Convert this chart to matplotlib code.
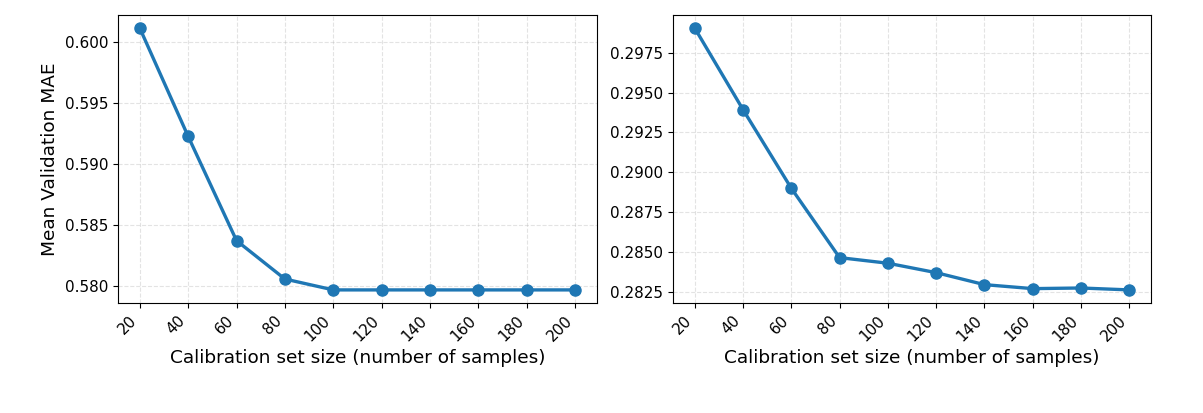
import matplotlib
matplotlib.use("Agg")
import matplotlib.pyplot as plt

sizes = [20, 40, 60, 80, 100, 120, 140, 160, 180, 200]
mae_left = [0.60110, 0.59224, 0.58371, 0.58057, 0.57968, 0.57968, 0.57968, 0.57968, 0.57968, 0.57968]
mae_right = [0.29903, 0.29393, 0.28901, 0.28467, 0.28432, 0.28373, 0.28298, 0.28273, 0.28277, 0.28265]
xlabel = "Calibration set size (number of samples)"
ylabel = "Mean Validation MAE"

fig = plt.figure(figsize=(12.03, 4.13), dpi=100)
ax1 = fig.add_axes([118/1203, 1-303/413, (597-118)/1203, (303-15)/413])
ax2 = fig.add_axes([673/1203, 1-303/413, (1151-673)/1203, (303-15)/413])

for ax, vals in ((ax1, mae_left), (ax2, mae_right)):
    ax.plot(sizes, vals, marker='o', color='#1f77b4', linewidth=2.4, markersize=8)
    ax.set_xticks(sizes)
    ax.set_xticklabels([str(s) for s in sizes], rotation=45, ha='right', fontsize=11)
    ax.tick_params(axis='y', labelsize=11)
    ax.grid(True, linestyle='--', alpha=0.35)
    ax.set_xlabel(xlabel, fontsize=13.3)

ax1.set_ylabel(ylabel, fontsize=13.3)
ax1.set_yticks([0.580, 0.585, 0.590, 0.595, 0.600])
ax1.set_yticklabels(['0.580', '0.585', '0.590', '0.595', '0.600'])
ax2.set_yticks([0.2825, 0.2850, 0.2875, 0.2900, 0.2925, 0.2950, 0.2975])
ax2.set_yticklabels(['0.2825', '0.2850', '0.2875', '0.2900', '0.2925', '0.2950', '0.2975'])

fig.savefig("out.png", dpi=100)
